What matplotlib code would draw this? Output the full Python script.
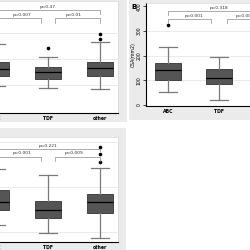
import matplotlib
matplotlib.use("Agg")
import matplotlib.pyplot as plt
from matplotlib.patches import Rectangle

# groups
groups = ["ABC", "TDF", "other"]

# panel A (arbitrary units): whislo, q1, med, q3, whishi
a_lo = [4.8, 4.4, 4.2]
a_q1 = [6.7, 6.2, 6.7]
a_med = [8.1, 7.5, 8.3]
a_q3 = [9.4, 8.5, 9.4]
a_hi = [12.9, 10.4, 13.3]
a_fliers = [[], [12.1], [13.8, 14.8]]
a_p = ["p=0.007", "p=0.01", "p=0.47"]

# panel B, CSA (mm2)
b_lo = [53, 20, 60]
b_q1 = [101, 85, 95]
b_med = [142, 109, 140]
b_q3 = [170, 146, 175]
b_hi = [235, 194, 250]
b_fliers = [[324], [], []]
b_p = ["p=0.001", "p=0.009", "p=0.318"]
b_ticks = [0, 100, 200, 300, 400]

# panel C
c_lo = [1.16, 0.98, 0.87]
c_q1 = [1.49, 1.31, 1.42]
c_med = [1.67, 1.49, 1.67]
c_q3 = [1.93, 1.69, 1.84]
c_hi = [2.40, 2.27, 2.42]
c_fliers = [[], [], [2.56, 2.73, 2.89]]
c_p = ["p=0.001", "p=0.009", "p=0.221"]

W = H = 250.0
GRAY = "#ebebeb"

fig = plt.figure(figsize=(2.5, 2.5), dpi=100)
fig.patch.set_facecolor("white")


def rect(x0, y0, x1, y1):
    return [x0 / W, 1 - y1 / H, (x1 - x0) / W, (y1 - y0) / H]


def bg(x0, y0, x1, y1):
    r = Rectangle((x0 / W, 1 - y1 / H), (x1 - x0) / W, (y1 - y0) / H,
                  transform=fig.transFigure, facecolor=GRAY, edgecolor="none", zorder=-5)
    fig.add_artist(r)


def panel(box, xlim, ylim, lo, q1, med, q3, hi, fl, grid):
    ax = fig.add_axes(rect(*box))
    stats = []
    for i in range(3):
        stats.append(dict(whislo=lo[i], q1=q1[i], med=med[i], q3=q3[i],
                          whishi=hi[i], fliers=fl[i]))
    ax.bxp(stats, positions=[1, 2, 3], widths=0.5, patch_artist=True,
           boxprops=dict(facecolor="#555555", edgecolor="#333333", linewidth=0.6),
           medianprops=dict(color="black", linewidth=0.9),
           whiskerprops=dict(color="#7a7a7a", linewidth=0.9),
           capprops=dict(color="#7a7a7a", linewidth=0.9),
           capwidths=0.36,
           flierprops=dict(marker="o", markersize=1.6, markerfacecolor="black",
                           markeredgecolor="black"))
    ax.set_xlim(*xlim)
    ax.set_ylim(*ylim)
    ax.set_xticks([1, 2, 3])
    ax.set_xticklabels(groups, fontsize=3.3, fontweight="bold")
    ax.tick_params(axis="x", length=0, pad=2)
    for g in grid:
        ax.axhline(g, color="#e2e2e2", lw=0.5, zorder=0)
    ax.spines["bottom"].set_color("black")
    ax.spines["bottom"].set_linewidth(0.8)
    for s in ["top", "right"]:
        ax.spines[s].set_color("#d8d8d8")
        ax.spines[s].set_linewidth(0.5)
    ax.spines["left"].set_color("black")
    ax.spines["left"].set_linewidth(0.8)
    return ax


def brackets(ax, pvals, y_low, y_low_leg, y_top, y_top_leg, d, gap):
    c = "#8a8a8a"
    ax.plot([1, 1, 2 - gap, 2 - gap], [y_low_leg, y_low, y_low, y_low_leg], color=c, lw=0.5)
    ax.plot([2 + gap, 2 + gap, 3, 3], [y_low_leg, y_low, y_low, y_low_leg], color=c, lw=0.5)
    ax.plot([1, 1, 3, 3], [y_top_leg, y_top, y_top, y_top_leg], color=c, lw=0.5)
    ax.text(1.5, y_low + d, pvals[0], fontsize=3.2, ha="center", va="bottom", color="#333333")
    ax.text(2.5, y_low + d, pvals[1], fontsize=3.2, ha="center", va="bottom", color="#333333")
    ax.text(2.0, y_top + d, pvals[2], fontsize=3.2, ha="center", va="bottom", color="#333333")


# gray graph regions
bg(-10, -10, 127, 122)
bg(129, -10, 260, 120)
bg(-10, 128, 126, 260)

# panel A (cropped on the left)
axA = panel((-22, 1, 118, 113), (0.65, 3.35), (-0.4, 21.1),
            a_lo, a_q1, a_med, a_q3, a_hi, a_fliers, [5, 10, 15])
axA.set_yticks([])
brackets(axA, a_p, 17.9, 16.9, 19.4, 18.7, 0.15, 0.13)

# panel B (cropped on the right)
axB = panel((146, 3, 292, 106), (0.569, 3.43), (-4, 413),
            b_lo, b_q1, b_med, b_q3, b_hi, b_fliers, [100, 200, 300])
axB.set_yticks(b_ticks)
axB.set_yticklabels([str(t) for t in b_ticks], fontsize=3.3, rotation=90, va="center")
axB.tick_params(axis="y", length=2, width=0.5, pad=1)
axB.set_ylabel("CSA(mm2)", fontsize=3.3, labelpad=1)
brackets(axB, b_p, 348, 332, 380, 364, 6, 0.15)
fig.text(131 / W, 1 - 7 / H, "B", fontsize=5, fontweight="bold", va="center")

# panel C (cropped on the left and bottom)
axC = panel((-22, 137, 118, 242), (0.65, 3.35), (0.78, 3.11),
            c_lo, c_q1, c_med, c_q3, c_hi, c_fliers, [1, 2, 3])
axC.set_yticks([])
brackets(axC, c_p, 2.67, 2.58, 2.84, 2.80, 0.03, 0.13)

fig.savefig("out.png", dpi=100)
